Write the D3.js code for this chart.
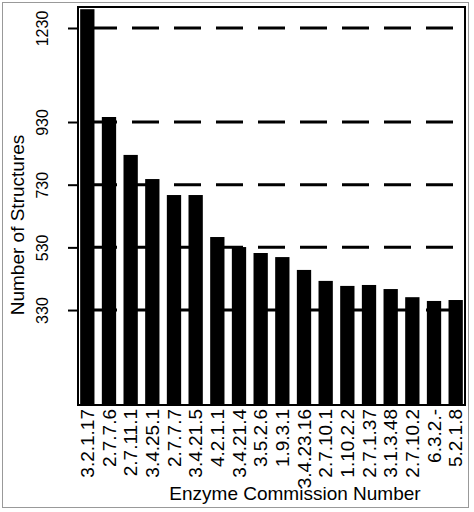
<!DOCTYPE html>
<html><head><meta charset="utf-8">
<script src="https://cdn.jsdelivr.net/npm/d3@7"></script>
<style>body{margin:0;background:#fff}text{font-family:"Liberation Sans",Arial,sans-serif}</style>
</head><body><svg id="c" width="474" height="512"></svg>
<script>
const categories=["3.2.1.17","2.7.7.6","2.7.11.1","3.4.25.1","2.7.7.7","3.4.21.5","4.2.1.1","3.4.21.4","3.5.2.6","1.9.3.1","3.4.23.16","2.7.10.1","1.10.2.2","2.7.1.37","3.1.3.48","2.7.10.2","6.3.2.-","5.2.1.8"];
const values=[1290,946,825,748,697,697,563,531,512,499,458,423,407,410,397,371,359,362];
const yTicks=[330,530,730,930,1230];
const svg=d3.select("#c");
const L=78,R=465,T=7,B=405;
const x=d3.scaleBand().domain(categories).range([L,R]).paddingInner(0.34).paddingOuter(0.1);
const y=d3.scaleLinear().domain([27,1297]).range([B,T]);
svg.append("rect").attr("x",2.5).attr("y",2.5).attr("width",466).attr("height",505).attr("fill","none").attr("stroke","#999").attr("stroke-width",1);
svg.append("g").selectAll("line").data(yTicks).join("line")
 .attr("x1",L).attr("x2",R).attr("y1",d=>y(d)).attr("y2",d=>y(d))
 .attr("stroke","#000").attr("stroke-width",3).attr("stroke-dasharray","27,15").attr("stroke-dashoffset",-12);
svg.append("g").selectAll("rect").data(values).join("rect")
 .attr("x",(d,i)=>x(categories[i])).attr("width",x.bandwidth())
 .attr("y",d=>y(d)).attr("height",d=>B-y(d)).attr("fill","#000");
svg.append("rect").attr("x",L).attr("y",T).attr("width",R-L).attr("height",B-T).attr("fill","none").attr("stroke","#000").attr("stroke-width",2);
const ya=svg.append("g").attr("transform",`translate(${L},0)`).call(d3.axisLeft(y).tickValues(yTicks).tickSize(10).tickPadding(0).tickFormat(d3.format("d")));
ya.select(".domain").remove();
ya.selectAll("line").attr("stroke-width",2);
ya.selectAll("text").attr("transform","translate(-36,0) rotate(-90)").attr("x",0).attr("y",0).attr("dy","0.35em").attr("text-anchor","middle").style("font-size","16px").attr("fill","#000");
const xa=svg.append("g").attr("transform",`translate(0,${B})`).call(d3.axisBottom(x).tickSize(0));
xa.select(".domain").remove();
xa.selectAll("text").attr("transform","rotate(-90)").attr("x",-4).attr("y",0).attr("dy","0.35em").attr("text-anchor","end").style("font-size","19px").attr("fill","#000");
svg.append("text").attr("x",295).attr("y",500).attr("text-anchor","middle").style("font-size","19px").text("Enzyme Commission Number");
svg.append("text").attr("transform","translate(24,225) rotate(-90)").attr("text-anchor","middle").style("font-size","19px").text("Number of Structures");
</script></body></html>
